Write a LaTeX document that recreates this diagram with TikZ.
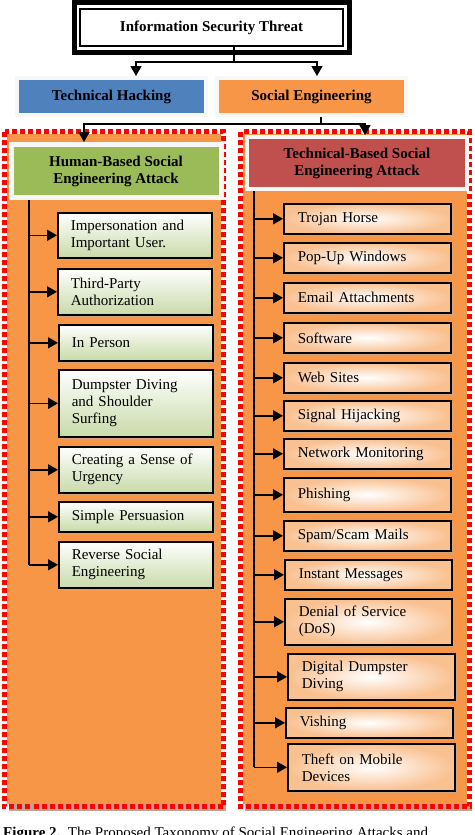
\documentclass[tikz,border=0pt]{standalone}
\usepackage{fontspec}
\setmainfont{Liberation Serif}
\usepackage{tikz}
\usetikzlibrary{arrows.meta, shadows}

\definecolor{seorange}{RGB}{247,150,70}
\definecolor{seblue}{RGB}{79,129,189}
\definecolor{segreen}{RGB}{155,187,89}
\definecolor{sered}{RGB}{192,80,77}
\definecolor{paleGreen}{RGB}{200,218,168}
\definecolor{peach}{RGB}{249,192,144}

\begin{document}
\begin{tikzpicture}[x=1pt, y=-1pt, >={Triangle[length=10pt,width=11pt]},
        header/.style={draw=gray!6, line width=4pt, font=\bfseries\fontsize{15}{17}\selectfont, align=center,
            drop shadow={shadow xshift=2pt, shadow yshift=-2pt, fill=gray!45}},
        humanitem/.style={draw=black, line width=1.6pt, anchor=north west, text width=128pt, inner xsep=13pt, inner ysep=3pt,
            align=left, font=\fontsize{15}{17}\selectfont, top color=white, bottom color=paleGreen,
            drop shadow={shadow xshift=2pt, shadow yshift=-2pt, fill=gray!60}},
        techitem/.style={draw=black, line width=1.6pt, anchor=north west, text width=139pt, inner xsep=14pt, inner ysep=3pt,
            align=left, font=\fontsize{15}{17}\selectfont, inner color=white, outer color=peach,
            drop shadow={shadow xshift=2pt, shadow yshift=-2pt, fill=gray!60}},
        area/.style={draw=red, line width=5pt, dash pattern=on 5pt off 3pt},
        link/.style={draw=black, line width=1.5pt}]
        \useasboundingbox (0,0) rectangle (474,835);
        \fill[white] (0,0) rectangle (474,835);

        % Areas
        \fill[gray!55!brown!70] (9,804) rectangle (226,811);
        \fill[seorange] (7,134) rectangle (221,804);
        \draw[area] (4.5,131.5) rectangle (223.5,806.5);
        \fill[gray!55!brown!70] (245,804) rectangle (472,811);
        \fill[seorange] (243,134) rectangle (467,804);
        \draw[area] (240.5,131.5) rectangle (469.5,806.5);

        % Root
        \node[draw=black, line width=2pt, minimum width=263, minimum height=37, font=\bfseries\fontsize{15}{17}\selectfont]
            (threat) at (211.5,27.5) {Information Security Threat};
        \draw[line width=5pt] ([shift={(-5pt,6pt)}]threat.north west) rectangle ([shift={(5pt,-5pt)}]threat.south east);

        % Categories
        \node[header, fill=seblue, minimum width=189, minimum height=37] (hacking) at (111.5,96.5) {Technical Hacking};
        \node[header, fill=seorange, minimum width=189, minimum height=37] (social) at (311.5,96.5) {Social Engineering};
        \node[header, fill=segreen, line width=5pt, minimum width=210, minimum height=53] (human) at (116,171)
            {Human-Based Social\\Engineering Attack};
        \node[header, fill=sered, minimum width=220, minimum height=52] (tech) at (357,163)
            {Technical-Based Social\\Engineering Attack};

        % Links
        \coordinate (split) at (234,62);
        \draw[link] (split |- threat.south) -- (split);
        \draw[link,->] (split) -| ([xshift=24.5pt]hacking.north);
        \draw[link,->] (split) -| ([xshift=5.5pt]social.north);
        \coordinate (splitse) at (321,124);
        \draw[link] (splitse |- social.south) -- (splitse);
        \draw[link,->] (splitse) -| ([xshift=-32pt]human.north);
        \draw[link,->] (splitse) -| ([xshift=8pt]tech.north);

        % Human-based attacks
        \node[humanitem, minimum height=45] (h1) at (57,212) {Impersonation and\\Important User.};
        \node[humanitem, minimum height=46] (h2) at (57,268) {Third-Party\\Authorization};
        \node[humanitem, minimum height=36] (h3) at (58,324) {In Person};
        \node[humanitem, minimum height=67] (h4) at (58,369) {Dumpster Diving\\and Shoulder\\Surfing};
        \node[humanitem, minimum height=46] (h5) at (58,446) {Creating a Sense of\\Urgency};
        \node[humanitem, minimum height=30] (h6) at (58,501) {Simple Persuasion};
        \node[humanitem, minimum height=46] (h7) at (58,541) {Reverse Social\\Engineering};

        \coordinate (humantrunk) at (29,197);
        \draw[link] (humantrunk |- human.south) -- (humantrunk |- h7.west);
        \draw[link,->] (humantrunk |- h1.west) -- (h1.west);
        \draw[link,->] (humantrunk |- h2.west) -- (h2.west);
        \draw[link,->] (humantrunk |- h3.west) -- (h3.west);
        \draw[link,->] (humantrunk |- h4.west) -- (h4.west);
        \draw[link,->] (humantrunk |- h5.west) -- (h5.west);
        \draw[link,->] (humantrunk |- h6.west) -- (h6.west);
        \draw[link,->] (humantrunk |- h7.west) -- (h7.west);

        % Technical-based attacks
        \node[techitem, minimum height=30] (t1) at (283,203) {Trojan Horse};
        \node[techitem, minimum height=30] (t2) at (283,242) {Pop-Up Windows};
        \node[techitem, minimum height=30] (t3) at (283,282) {Email Attachments};
        \node[techitem, minimum height=30] (t4) at (283,322) {Software};
        \node[techitem, minimum height=30] (t5) at (283,362) {Web Sites};
        \node[techitem, minimum height=30] (t6) at (283,400) {Signal Hijacking};
        \node[techitem, minimum height=30] (t7) at (283,438) {Network Monitoring};
        \node[techitem, minimum height=34] (t8) at (283,477) {Phishing};
        \node[techitem, minimum height=30] (t9) at (283,520) {Spam/Scam Mails};
        \node[techitem, minimum height=30] (t10) at (284,559) {Instant Messages};
        \node[techitem, minimum height=46] (t11) at (284,598) {Denial of Service\\(DoS)};
        \node[techitem, minimum height=46] (t12) at (287,653) {Digital Dumpster\\Diving};
        \node[techitem, minimum height=30] (t13) at (285,707) {Vishing};
        \node[techitem, minimum height=47] (t14) at (287,743) {Theft on Mobile\\Devices};

        \coordinate (techtrunk) at (254,189);
        \draw[link] (techtrunk |- tech.south) -- (techtrunk |- t14.west);
        \draw[link,->] (techtrunk |- t1.west) -- (t1.west);
        \draw[link,->] (techtrunk |- t2.west) -- (t2.west);
        \draw[link,->] (techtrunk |- t3.west) -- (t3.west);
        \draw[link,->] (techtrunk |- t4.west) -- (t4.west);
        \draw[link,->] (techtrunk |- t5.west) -- (t5.west);
        \draw[link,->] (techtrunk |- t6.west) -- (t6.west);
        \draw[link,->] (techtrunk |- t7.west) -- (t7.west);
        \draw[link,->] (techtrunk |- t8.west) -- (t8.west);
        \draw[link,->] (techtrunk |- t9.west) -- (t9.west);
        \draw[link,->] (techtrunk |- t10.west) -- (t10.west);
        \draw[link,->] (techtrunk |- t11.west) -- (t11.west);
        \draw[link,->] (techtrunk |- t12.west) -- (t12.west);
        \draw[link,->] (techtrunk |- t13.west) -- (t13.west);
        \draw[link,->] (techtrunk |- t14.west) -- (t14.west);

        % Caption
        \node[anchor=base west, inner sep=0pt, font=\fontsize{15}{17}\selectfont] (caption) at (3,837)
            {\textbf{Figure 2.}\enspace The Proposed Taxonomy of Social Engineering Attacks and};
\end{tikzpicture}
\end{document}
